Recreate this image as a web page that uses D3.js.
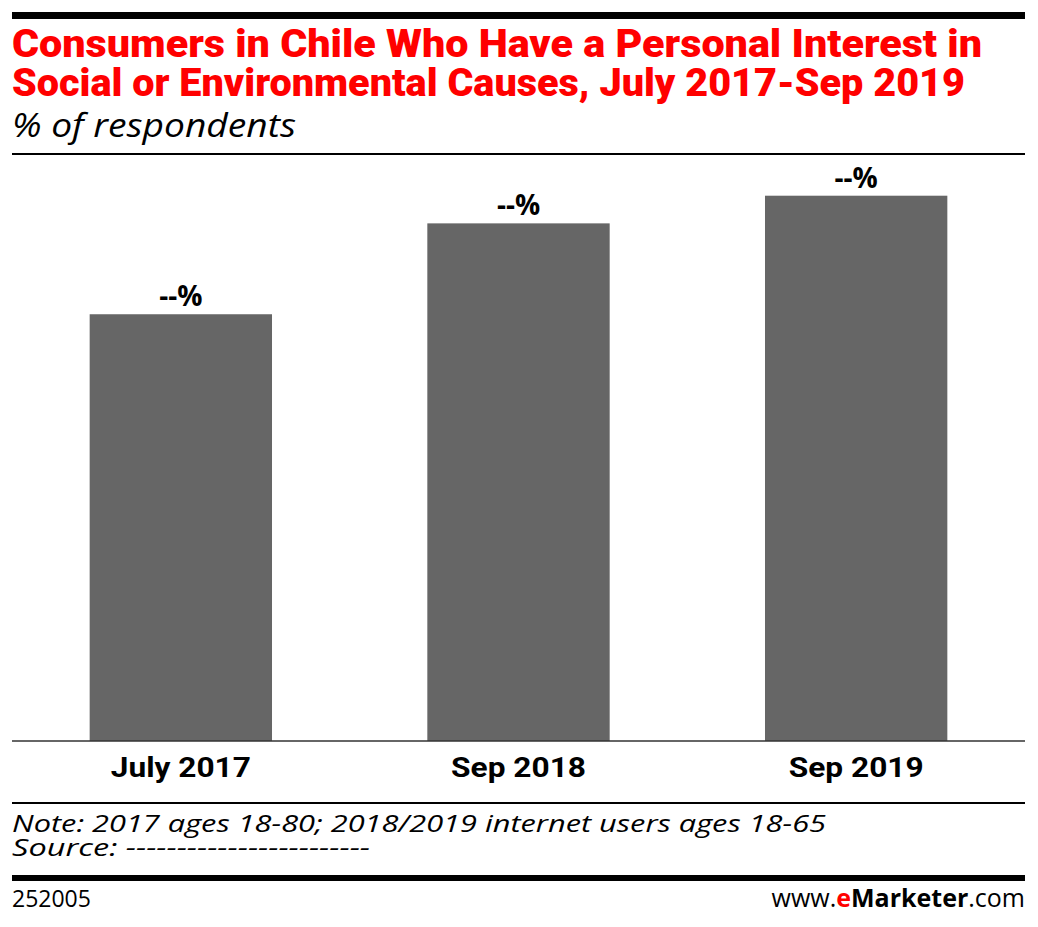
<!DOCTYPE html>
<html>
<head>
<meta charset="utf-8">
<script src="https://cdn.jsdelivr.net/npm/d3@7"></script>
<style>
  html, body { margin: 0; padding: 0; background: #fff; }
  svg { display: block; }
</style>
</head>
<body>
<script>
const categories = ["July 2017", "Sep 2018", "Sep 2019"];
const values = [54, 65.5, 69];
const valueLabels = ["--%", "--%", "--%"];
const titleLines = ["Consumers in Chile Who Have a Personal Interest in", "Social or Environmental Causes, July 2017-Sep 2019"];
const subtitle = "% of respondents";
const noteLines = ["Note: 2017 ages 18-80; 2018/2019 internet users ages 18-65", "Source: ------------------------"];
const chartId = "252005";

const W = 1038, H = 927;
const L = 12, R = 1025;
const svg = d3.select("body").append("svg").attr("width", W).attr("height", H);

// top thick rule
svg.append("rect").attr("x", L).attr("y", 12).attr("width", R - L).attr("height", 7).attr("fill", "#000");

// title
const titleFont = "Roboto, 'DejaVu Sans', sans-serif";
const titleBaselines = [57, 96];
const titleWidths = [970, 953];
titleLines.forEach((t, i) => {
  svg.append("text").attr("x", L).attr("y", titleBaselines[i])
    .attr("font-family", titleFont).attr("font-weight", 900).attr("font-size", 38)
    .attr("fill", "#ff0000")
    .attr("textLength", titleWidths[i]).attr("lengthAdjust", "spacingAndGlyphs")
    .text(t);
});
svg.append("text").attr("x", L).attr("y", 137)
  .attr("font-family", "'Open Sans', sans-serif").attr("font-style", "italic").attr("font-size", 33)
  .attr("fill", "#000")
  .attr("textLength", 284).attr("lengthAdjust", "spacingAndGlyphs")
  .text(subtitle);

svg.append("rect").attr("x", L).attr("y", 153).attr("width", R - L).attr("height", 2).attr("fill", "#000");

// plot
const baseY = 741;
const x = d3.scaleBand().domain(categories).range([L, R]).paddingInner(0.46).paddingOuter(0.23);
const y = d3.scaleLinear().domain([0, 72]).range([baseY, 172]);

svg.append("g").selectAll("rect").data(values).join("rect")
  .attr("x", (d, i) => x(categories[i]))
  .attr("y", d => y(d))
  .attr("width", x.bandwidth())
  .attr("height", d => y(0) - y(d))
  .attr("fill", "#666666");

svg.append("g").selectAll("text").data(values).join("text")
  .attr("x", (d, i) => x(categories[i]) + x.bandwidth() / 2)
  .attr("y", d => y(d) - 8)
  .attr("text-anchor", "middle")
  .attr("font-family", "'Open Sans', sans-serif").attr("font-weight", 700).attr("font-size", 28)
  .attr("fill", "#000")
  .text((d, i) => valueLabels[i]);

// baseline axis
const xAxis = svg.append("g").attr("transform", `translate(0,${baseY})`)
  .call(d3.axisBottom(x).tickSize(0).tickPadding(0));
xAxis.select(".domain").attr("stroke", "#333").attr("stroke-width", 1.5).attr("d", `M${L},0H${R}`);
xAxis.selectAll(".tick text")
  .attr("y", 36).attr("dy", 0)
  .attr("font-family", "Roboto, 'DejaVu Sans', sans-serif").attr("font-weight", 700).attr("font-size", 28)
  .attr("fill", "#000")
  .each(function () {
    const w = this.getComputedTextLength();
    d3.select(this).attr("textLength", w * 1.13).attr("lengthAdjust", "spacingAndGlyphs");
  });

// notes
svg.append("rect").attr("x", L).attr("y", 802).attr("width", R - L).attr("height", 2).attr("fill", "#000");
const noteBaselines = [832, 856];
const noteWidths = [814, 358];
noteLines.forEach((t, i) => {
  svg.append("text").attr("x", L).attr("y", noteBaselines[i])
    .attr("font-family", "'Open Sans', sans-serif").attr("font-style", "italic").attr("font-size", 24)
    .attr("fill", "#000")
    .attr("textLength", noteWidths[i]).attr("lengthAdjust", "spacingAndGlyphs")
    .text(t);
});
svg.append("rect").attr("x", L).attr("y", 875).attr("width", R - L).attr("height", 6).attr("fill", "#000");

// footer
svg.append("text").attr("x", L).attr("y", 907)
  .attr("font-family", "'Open Sans', sans-serif").attr("font-size", 23).attr("fill", "#000")
  .text(chartId);

const foot = svg.append("text").attr("x", R).attr("y", 907).attr("text-anchor", "end")
  .attr("font-family", "'Open Sans', sans-serif").attr("font-size", 25).attr("fill", "#000");
foot.append("tspan").text("www.");
foot.append("tspan").attr("font-weight", 700).attr("fill", "#ff0000").text("e");
foot.append("tspan").attr("font-weight", 700).text("Marketer");
foot.append("tspan").text(".com");
</script>
</body>
</html>
